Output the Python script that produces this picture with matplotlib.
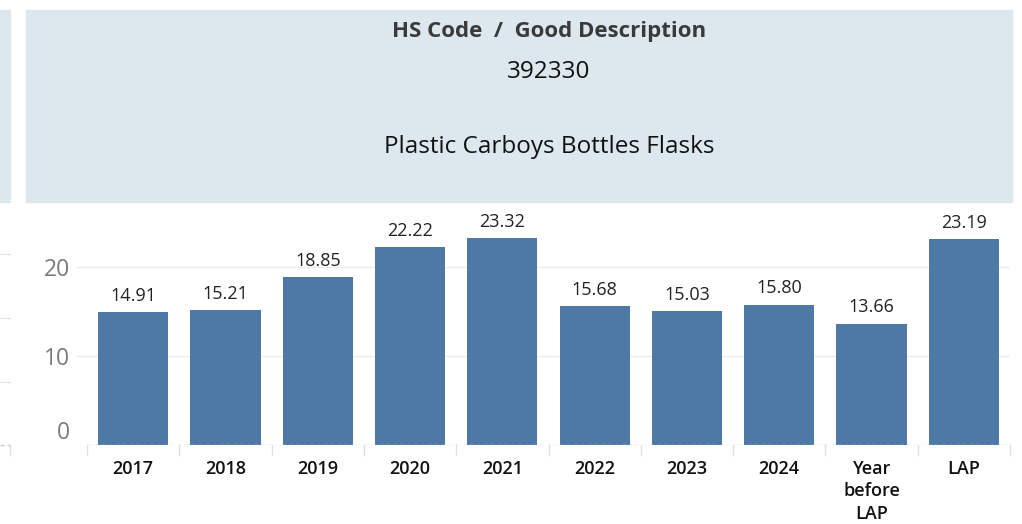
import matplotlib
matplotlib.use("Agg")
import matplotlib.pyplot as plt
from matplotlib.patches import Rectangle
from matplotlib.lines import Line2D

categories = ["2017", "2018", "2019", "2020", "2021", "2022", "2023", "2024", "Year\nbefore\nLAP", "LAP"]
values = [14.91, 15.21, 18.85, 22.22, 23.32, 15.68, 15.03, 15.80, 13.66, 23.19]
yticks = [0, 10, 20]
hs_code = "392330"
description = "Plastic Carboys Bottles Flasks"
header = "HS Code  /  Good Description"

W, H = 1022, 524
fig = plt.figure(figsize=(W / 100, H / 100), dpi=100)
fig.patch.set_facecolor("white")
FONT = ["Open Sans", "DejaVu Sans"]

def fx(px):
    return px / W

def fy(py):
    return 1 - py / H

panel = "#dde8ee"
# left cut-off panel
fig.patches.append(Rectangle((fx(0), fy(202)), fx(10), (202 - 10) / H, transform=fig.transFigure, color=panel, zorder=0))
# main header panel
fig.patches.append(Rectangle((fx(26), fy(202)), fx(1012 - 26), (202 - 10) / H, transform=fig.transFigure, color=panel, zorder=0))

fig.text(fx(549), fy(31), header, ha="center", va="center", fontsize=16, fontweight="bold", color="#3a3a3a", family=FONT)
fig.text(fx(549), fy(72), hs_code, ha="center", va="center", fontsize=17.5, color="#111111", family=FONT)
fig.text(fx(549), fy(147), description, ha="center", va="center", fontsize=17.5, color="#111111", family=FONT)

# left strip remnants
for py in (254, 318, 382):
    fig.add_artist(Line2D([fx(0), fx(10)], [fy(py), fy(py)], transform=fig.transFigure, color="#e6e6e6", lw=1))
fig.add_artist(Line2D([fx(0), fx(10)], [fy(445), fy(445)], transform=fig.transFigure, color="#c8c8c8", lw=1, ls=(0, (3, 2))))
fig.add_artist(Line2D([fx(10), fx(10)], [fy(445), fy(455)], transform=fig.transFigure, color="#e0e0e0", lw=1))

# main axes: x 87..1010, y 205..445
ymax = 27
ax = fig.add_axes([fx(87), fy(445), fx(1010 - 87), (445 - 205) / H])
x = list(range(len(categories)))
ax.bar(x, values, width=0.76, color="#4e79a7", zorder=3)
for xi, v in zip(x, values):
    ax.text(xi, v + 0.8, f"{v:.2f}", ha="center", va="bottom", fontsize=13, color="#222222", family=FONT)
ax.set_xlim(-0.5, len(categories) - 0.5)
ax.set_ylim(0, ymax)
ax.set_yticks(yticks)
ax.set_yticklabels([str(t) for t in yticks], fontsize=16.5, color="#7a7a7a", family=FONT)
ax.get_yticklabels()[0].set_va("bottom")
ax.set_xticks(x)
ax.set_xticklabels(categories, fontsize=13, fontweight="semibold", color="#111111", family=FONT, linespacing=1.3)
ax.tick_params(axis="x", length=0, pad=11)
ax.tick_params(axis="y", length=0, pad=12)
for t in yticks[1:]:
    ax.axhline(t, color="#ececec", lw=1, zorder=1)
ax.axhline(0, color="#c8c8c8", lw=1, ls=(0, (3, 2)), zorder=4)
for s in ax.spines.values():
    s.set_visible(False)
# category separators below baseline
for b in range(len(categories) + 1):
    ax.add_artist(Line2D([b - 0.5, b - 0.5], [0, -ymax * 10 / 240], color="#e0e0e0", lw=1, clip_on=False))
# gridline extension left of the axis
for t in yticks[1:]:
    ax.add_artist(Line2D([-0.61, -0.5], [t, t], color="#ececec", lw=1, clip_on=False))

fig.savefig("out.png", dpi=100, facecolor="white")
